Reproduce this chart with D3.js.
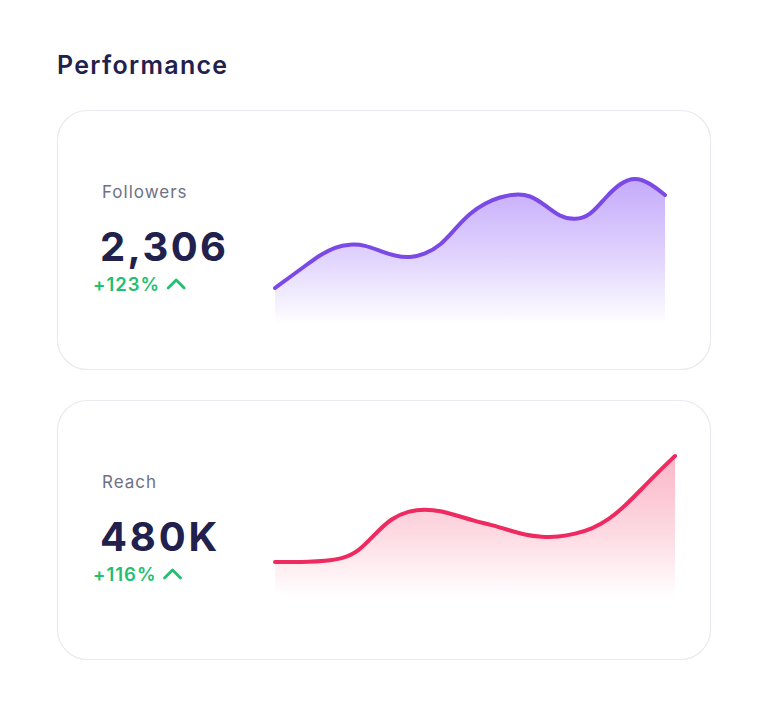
<!DOCTYPE html>
<html>
<head>
<meta charset="utf-8">
<script src="https://cdn.jsdelivr.net/npm/d3@7"></script>
<style>
  html, body { margin: 0; padding: 0; background: #ffffff; }
  svg { display: block; }
</style>
</head>
<body>
<svg id="chart" width="768" height="709"></svg>
<script>
// ---- Data ----
const title = "Performance";
const metricNames = ["Followers", "Reach"];
const metricTotals = ["2,306", "480K"];
const metricChanges = ["+123%", "+116%"];
const followersDays = d3.range(1, 28);
const followersValues = [37, 48, 59, 70, 78, 81, 80, 74, 69, 67, 71, 79, 96, 112, 122, 128, 131, 130, 120, 108, 105, 109, 127, 142, 148, 142, 130];
const reachDays = d3.range(1, 26);
const reachValues = [35, 35, 35, 36, 38, 45, 63, 79, 86, 88, 86, 81, 76, 72, 67, 62, 60, 60, 63, 68, 77, 91, 108, 125, 141];

// ---- Layout ----
const svg = d3.select("#chart");
const font = "Inter, 'Noto Sans', sans-serif";
const navy = "#22214d";
const gray = "#6e7085";
const green = "#20c06e";

svg.append("text")
  .attr("x", 57).attr("y", 74)
  .attr("font-family", font).attr("font-size", 25).attr("font-weight", 600)
  .attr("letter-spacing", 1.3)
  .attr("fill", navy).text(title);

const defs = svg.append("defs");

const cards = [
  { top: 110, days: followersDays, values: followersValues, line: "#7b4ae6", fillTop: "#c3a8fb",
    x0: 275, x1: 665, yBottom: 325, yTop: 175, domainMax: 150 },
  { top: 400, days: reachDays, values: reachValues, line: "#ee2a60", fillTop: "#fbb5c6",
    x0: 275, x1: 675, yBottom: 597, yTop: 455, domainMax: 142 }
];

cards.forEach((c, i) => {
  const g = svg.append("g");
  g.append("rect")
    .attr("x", 57.5).attr("y", c.top + 0.5)
    .attr("width", 653).attr("height", 259)
    .attr("rx", 30).attr("ry", 30)
    .attr("fill", "#ffffff").attr("stroke", "#e9e9ef").attr("stroke-width", 1.2);

  g.append("text")
    .attr("x", 102).attr("y", c.top + 88)
    .attr("font-family", font).attr("font-size", 17).attr("font-weight", 400)
    .attr("letter-spacing", 1.0)
    .attr("fill", gray).text(metricNames[i]);

  g.append("text")
    .attr("x", 100).attr("y", c.top + 151)
    .attr("font-family", font).attr("font-size", 40).attr("font-weight", 700)
    .attr("letter-spacing", i === 0 ? 2.4 : 2.8)
    .attr("fill", navy).text(metricTotals[i]);

  const ch = g.append("text")
    .attr("x", 93).attr("y", c.top + 181)
    .attr("font-family", font).attr("font-size", 18.5).attr("font-weight", 600)
    .attr("letter-spacing", 1.0)
    .attr("fill", green).text(metricChanges[i]);
  const w = ch.node().getComputedTextLength();
  const cx = 93 + w + 16;
  const cy = c.top + 174;
  g.append("path")
    .attr("d", `M${cx - 8},${cy + 4} L${cx},${cy - 4} L${cx + 8},${cy + 4}`)
    .attr("fill", "none").attr("stroke", green).attr("stroke-width", 2.8)
    .attr("stroke-linecap", "round").attr("stroke-linejoin", "round");

  const x = d3.scaleLinear().domain(d3.extent(c.days)).range([c.x0, c.x1]);
  const y = d3.scaleLinear().domain([0, c.domainMax]).range([c.yBottom, c.yTop]);

  const gradId = "grad" + i;
  const grad = defs.append("linearGradient")
    .attr("id", gradId).attr("gradientUnits", "userSpaceOnUse")
    .attr("x1", 0).attr("x2", 0).attr("y1", c.yTop).attr("y2", c.yBottom);
  grad.append("stop").attr("offset", "0%").attr("stop-color", c.fillTop).attr("stop-opacity", 1);
  grad.append("stop").attr("offset", "55%").attr("stop-color", c.fillTop).attr("stop-opacity", 0.5);
  grad.append("stop").attr("offset", "100%").attr("stop-color", c.fillTop).attr("stop-opacity", 0);

  const data = c.days.map((p, k) => ({ p, v: c.values[k] }));
  const curve = d3.curveBasis;

  g.append("path").datum(data)
    .attr("d", d3.area().x(d => x(d.p)).y0(c.yBottom).y1(d => y(d.v)).curve(curve))
    .attr("fill", `url(#${gradId})`);

  g.append("path").datum(data)
    .attr("d", d3.line().x(d => x(d.p)).y(d => y(d.v)).curve(curve))
    .attr("fill", "none").attr("stroke", c.line).attr("stroke-width", 4)
    .attr("stroke-linecap", "round").attr("stroke-linejoin", "round");
});
</script>
</body>
</html>
